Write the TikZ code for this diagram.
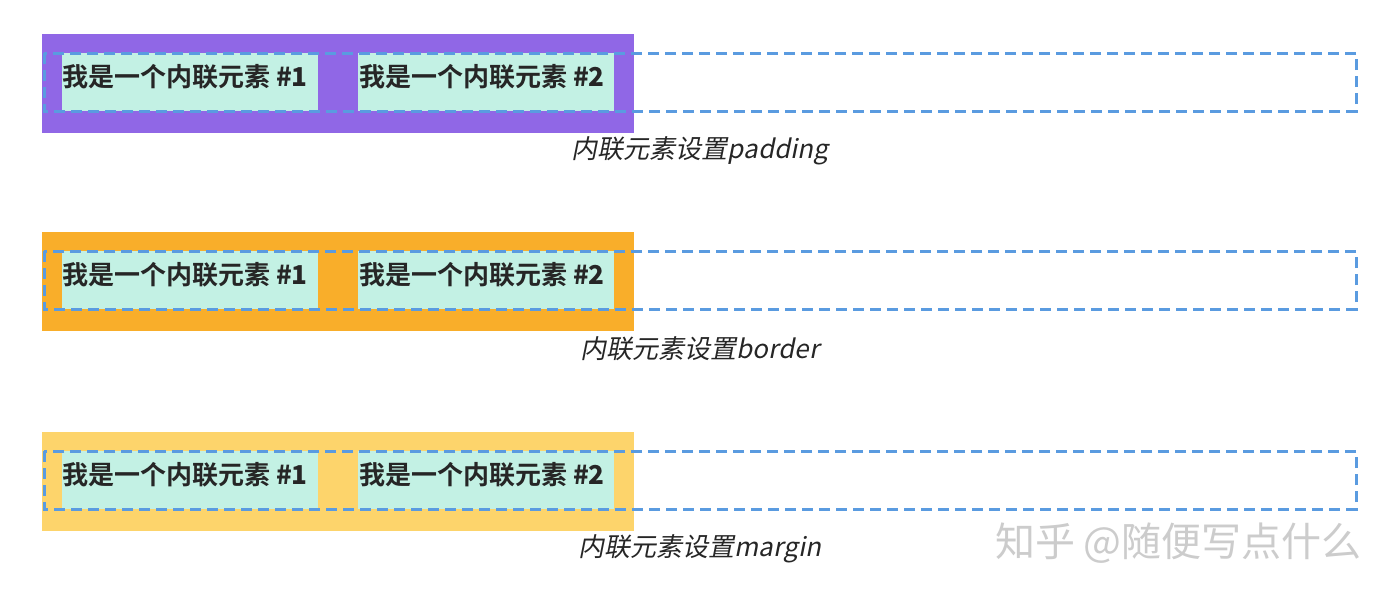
\documentclass[tikz,border=0pt]{standalone}
\usepackage{fontspec}
\newfontfamily\cjkb{Noto Sans CJK SC Bold}
\newfontfamily\cjkh{Noto Sans CJK SC Black}
\newfontfamily\cjk[FakeSlant=0.2]{Noto Sans CJK SC}
\newfontfamily\cjkw{Noto Sans CJK SC}
\definecolor{purp}{HTML}{9067E6}
\definecolor{oran}{HTML}{F9AE2A}
\definecolor{yel}{HTML}{FDD46B}
\definecolor{teal}{HTML}{C3F1E4}
\definecolor{dblue}{HTML}{5A9BE0}
\begin{document}
\begin{tikzpicture}[x=1pt,y=-1pt,
  lbl/.style={font=\cjkb\fontsize{26}{28}\selectfont, text=black!85, anchor=west, inner sep=0pt},
  captext/.style={font=\cjk\fontsize{26}{30}\selectfont, text=black!85, inner sep=0pt},
  dash box/.style={draw=dblue, line width=3pt, dash pattern=on 11pt off 6pt}]
\useasboundingbox (0,0) rectangle (1400,600);
\fill[white] (0,0) rectangle (1400,600);
\foreach \oy/\col/\ct/\nm in {0/purp/padding/a, 198/oran/border/b, 398/yel/margin/c}{
  \begin{scope}[yshift=-\oy pt]
  \fill[\col] (42,34) rectangle (634,133);
  \fill[teal] (62,53) rectangle (318,111);
  \fill[teal] (358,53) rectangle (614,111);
  \node[lbl] (\nm1) at (62,77) {我是一个内联元素 {\cjkh\#1}};
  \node[lbl] (\nm2) at (359,77) {我是一个内联元素 {\cjkh\#2}};
  \draw[dash box] (44,53) rectangle (1356,111);
  \node[captext] (\nm cap) at (700,151) {内联元素设置\ct};
  \end{scope}
}
\node[font=\cjkw\fontsize{40}{44}\selectfont, text=black!20, anchor=east, inner sep=0pt] (wm) at (1362,543) {知乎 @随便写点什么};
\end{tikzpicture}
\end{document}
